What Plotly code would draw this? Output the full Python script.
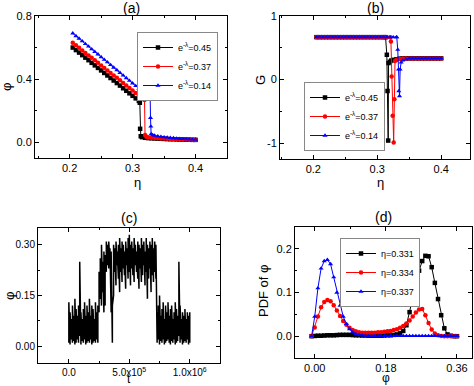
import plotly.graph_objects as go

# ---------------- panel (a): phi vs eta ----------------
eta_a_k = [0.205,0.21,0.215,0.22,0.225,0.23,0.235,0.24,0.245,0.25,0.255,0.26,0.265,0.27,0.275,0.28,0.285,0.29,0.295,0.30,0.305,0.31,
           0.3115,0.312,0.313,0.315,
           0.32,0.325,0.33,0.335,0.34,0.345,0.35,0.355,0.36,0.365,0.37,0.375,0.38,0.385,0.39,0.395,0.40]
phi_a_k = [0.600,0.584,0.568,0.552,0.536,0.520,0.503,0.487,0.471,0.455,0.439,0.423,0.407,0.391,0.375,0.359,0.342,0.326,0.310,0.294,0.278,0.262,
           0.250,0.085,0.038,0.032,
           0.028,0.026,0.025,0.024,0.023,0.022,0.021,0.020,0.019,0.019,0.018,0.017,0.017,0.016,0.016,0.015,0.015]

eta_a_r = [0.205,0.21,0.215,0.22,0.225,0.23,0.235,0.24,0.245,0.25,0.255,0.26,0.265,0.27,0.275,0.28,0.285,0.29,0.295,0.30,0.305,0.31,0.315,
           0.319,0.3198,0.322,
           0.325,0.33,0.335,0.34,0.345,0.35,0.355,0.36,0.365,0.37,0.375,0.38,0.385,0.39,0.395,0.40]
phi_a_r = [0.630,0.614,0.598,0.582,0.566,0.550,0.535,0.519,0.503,0.487,0.471,0.455,0.439,0.423,0.408,0.392,0.376,0.360,0.344,0.328,0.312,0.296,0.281,
           0.268,0.045,0.035,
           0.030,0.028,0.026,0.025,0.024,0.023,0.022,0.021,0.020,0.019,0.018,0.018,0.017,0.016,0.016,0.015]

eta_a_b = [0.205,0.21,0.215,0.22,0.225,0.23,0.235,0.24,0.245,0.25,0.255,0.26,0.265,0.27,0.275,0.28,0.285,0.29,0.295,0.30,0.305,0.31,0.315,0.32,0.325,
           0.328,0.3285,0.329,0.3295,0.332,0.335,
           0.34,0.345,0.35,0.355,0.36,0.365,0.37,0.375,0.38,0.385,0.39,0.395,0.40]
phi_a_b = [0.690,0.673,0.657,0.640,0.623,0.607,0.590,0.573,0.557,0.540,0.523,0.507,0.490,0.473,0.457,0.440,0.423,0.407,0.390,0.373,0.357,0.340,0.323,0.307,0.290,
           0.280,0.155,0.100,0.052,0.046,0.042,
           0.038,0.035,0.032,0.030,0.028,0.026,0.024,0.022,0.021,0.020,0.019,0.018,0.017]

# ---------------- panel (b): G vs eta ----------------
eta_b_k = [0.205,0.21,0.215,0.22,0.225,0.23,0.235,0.24,0.245,0.25,0.255,0.26,0.265,0.27,0.275,0.28,0.285,0.29,0.295,0.30,0.305,0.31,
           0.313,0.315,0.3161,0.3171,0.3177,0.3198,0.322,0.325,0.33,0.335,
           0.34,0.345,0.35,0.355,0.36,0.365,0.37,0.375,0.38,0.385,0.39,0.395,0.40]
G_b_k = [0.667,0.667,0.667,0.667,0.667,0.667,0.667,0.667,0.667,0.667,0.667,0.667,0.667,0.667,0.667,0.667,0.667,0.667,0.667,0.667,0.667,0.667,
         0.667,0.39,-0.18,-0.96,0.26,0.28,0.30,0.31,0.32,0.33,
         0.333,0.333,0.333,0.333,0.333,0.333,0.333,0.333,0.333,0.333,0.333,0.333,0.333]

eta_b_r = [0.205,0.21,0.215,0.22,0.225,0.23,0.235,0.24,0.245,0.25,0.255,0.26,0.265,0.27,0.275,0.28,0.285,0.29,0.295,0.30,0.305,0.31,0.315,
           0.3205,0.3214,0.3225,0.3241,0.3257,0.3268,0.3278,0.33,0.335,
           0.34,0.345,0.35,0.355,0.36,0.365,0.37,0.375,0.38,0.385,0.39,0.395,0.40]
G_b_r = [0.667,0.667,0.667,0.667,0.667,0.667,0.667,0.667,0.667,0.667,0.667,0.667,0.667,0.667,0.667,0.667,0.667,0.667,0.667,0.667,0.667,0.667,0.667,
         0.667,0.60,0.05,-0.57,-0.99,-0.31,0.29,0.31,0.325,
         0.333,0.333,0.333,0.333,0.333,0.333,0.333,0.333,0.333,0.333,0.333,0.333,0.333]

eta_b_b = [0.205,0.21,0.215,0.22,0.225,0.23,0.235,0.24,0.245,0.25,0.255,0.26,0.265,0.27,0.275,0.28,0.285,0.29,0.295,0.30,0.305,0.31,0.315,0.32,0.325,0.33,
           0.3305,0.3321,0.3332,0.3337,0.3348,0.3358,0.3374,0.34,0.345,
           0.35,0.355,0.36,0.365,0.37,0.375,0.38,0.385,0.39,0.395,0.40]
G_b_b = [0.667,0.667,0.667,0.667,0.667,0.667,0.667,0.667,0.667,0.667,0.667,0.667,0.667,0.667,0.667,0.667,0.667,0.667,0.667,0.667,0.667,0.667,0.667,0.667,0.667,0.667,
         0.667,0.47,0.16,-0.18,-0.26,0.16,0.27,0.30,0.32,
         0.333,0.333,0.333,0.333,0.333,0.333,0.333,0.333,0.333,0.333,0.333]

legend_a = ["e<sup>-λ</sup>=0.45", "e<sup>-λ</sup>=0.37", "e<sup>-λ</sup>=0.14"]

# ---------------- panel (c): phi time series (low / high envelope per step) ----------------
t_c = [0,1e4,2e4,3e4,4e4,5e4,6e4,7e4,8e4,9e4,10e4,11e4,12e4,13e4,14e4,15e4,16e4,17e4,18e4,19e4,
       20e4,21e4,22e4,23e4,24e4,25e4,26e4,27e4,28e4,29e4,30e4,31e4,32e4,33e4,34e4,35e4,36e4,37e4,38e4,39e4,
       40e4,41e4,42e4,43e4,44e4,45e4,46e4,47e4,48e4,49e4,50e4,51e4,52e4,53e4,54e4,55e4,56e4,57e4,58e4,59e4,
       60e4,61e4,62e4,63e4,64e4,65e4,66e4,67e4,68e4,69e4,70e4,71e4,72e4,73e4,74e4,75e4,76e4,77e4,78e4,79e4,
       80e4,81e4,82e4,83e4,84e4,85e4,86e4,87e4,88e4,89e4,90e4,91e4,92e4,93e4,94e4,95e4,96e4,97e4,98e4,99e4,100e4]
phi_c_hi = [0.13,0.10,0.08,0.12,0.09,0.14,0.11,0.09,0.12,0.25,0.10,0.08,0.11,0.13,0.09,0.12,0.10,0.14,0.09,0.12,
            0.11,0.08,0.13,0.10,0.12,0.22,0.26,0.30,0.25,0.28,0.27,0.31,0.30,0.31,0.29,0.28,0.12,0.30,0.29,0.31,
            0.28,0.30,0.32,0.29,0.31,0.30,0.28,0.31,0.29,0.32,0.33,0.30,0.31,0.29,0.32,0.30,0.28,0.31,0.30,0.29,
            0.32,0.30,0.31,0.28,0.32,0.30,0.29,0.31,0.30,0.32,0.29,0.31,0.30,0.10,0.12,0.15,0.09,0.11,0.13,0.08,
            0.12,0.10,0.13,0.09,0.11,0.12,0.08,0.10,0.13,0.11,0.09,0.25,0.12,0.08,0.10,0.09,0.11,0.08,0.10,0.09,0.10]
phi_c_lo = [0.01,0.005,0.02,0.01,0.015,0.005,0.01,0.02,0.01,0.03,0.005,0.015,0.01,0.02,0.005,0.01,0.015,0.01,0.02,0.005,
            0.01,0.015,0.01,0.02,0.01,0.10,0.14,0.12,0.16,0.10,0.12,0.22,0.24,0.23,0.25,0.10,0.01,0.15,0.22,0.18,
            0.24,0.20,0.16,0.22,0.19,0.23,0.21,0.17,0.24,0.20,0.22,0.18,0.23,0.21,0.19,0.24,0.22,0.20,0.17,0.23,
            0.19,0.21,0.24,0.18,0.22,0.14,0.20,0.23,0.16,0.21,0.19,0.22,0.20,0.01,0.02,0.005,0.015,0.01,0.02,0.005,
            0.01,0.015,0.02,0.01,0.005,0.015,0.01,0.02,0.005,0.01,0.015,0.03,0.01,0.02,0.005,0.01,0.015,0.01,0.02,0.005,0.01]

# ---------------- panel (d): PDF of phi ----------------
phi_d = [-0.008,0.000,0.008,0.016,0.024,0.032,0.040,0.048,0.056,0.064,0.072,0.080,0.088,0.096,0.104,0.112,0.120,0.128,0.136,0.144,
         0.152,0.160,0.168,0.176,0.184,0.192,0.200,0.208,0.216,0.224,0.232,0.240,0.248,0.256,0.264,0.272,0.280,0.288,0.296,0.304,
         0.312,0.320,0.328,0.336,0.344,0.352,0.360]
pdf_k = [0.000,0.0005,0.001,0.001,0.0015,0.002,0.002,0.002,0.0025,0.003,0.003,0.003,0.003,0.0025,0.002,0.002,0.0015,0.0015,0.001,0.001,
         0.001,0.001,0.001,0.0015,0.002,0.002,0.003,0.004,0.007,0.012,0.025,0.055,0.088,0.120,0.150,0.172,0.184,0.183,0.158,0.122,
         0.085,0.048,0.018,0.004,0.001,0.000,0.000]
pdf_r = [0.000,0.020,0.045,0.066,0.078,0.083,0.080,0.071,0.059,0.046,0.035,0.026,0.019,0.014,0.011,0.009,0.008,0.008,0.008,0.008,
         0.008,0.009,0.009,0.010,0.011,0.012,0.014,0.016,0.019,0.023,0.029,0.036,0.045,0.054,0.061,0.062,0.048,0.030,0.015,0.006,
         0.002,0.0005,0.000,0.000,0.000,0.000,0.000]
pdf_b = [0.000,0.045,0.110,0.155,0.172,0.175,0.165,0.135,0.100,0.070,0.045,0.028,0.016,0.009,0.005,0.003,0.002,0.001,0.0005,0.0005,
         0.0005,0.0005,0.0005,0.0005,0.0005,0.0005,0.0005,0.0005,0.0005,0.0005,0.0005,0.0005,0.0005,0.0005,0.0005,0.0005,0.0005,0.0005,0.0005,0.0005,
         0.0005,0.0005,0.0005,0.0005,0.0005,0.0005,0.0005]
legend_d = ["η=0.331", "η=0.334", "η=0.337"]

colors = ["#000000", "#ff0000", "#0000ff"]
symbols = ["square", "circle", "triangle-up"]

fig = go.Figure()

def add_series(x, y, i, name, xa, ya, leg, size=4.5):
    fig.add_trace(go.Scatter(x=x, y=y, mode="lines+markers", name=name,
                             line=dict(color=colors[i], width=1),
                             marker=dict(symbol=symbols[i], size=size, color=colors[i]),
                             xaxis=xa, yaxis=ya, legend=leg))

add_series(eta_a_k, phi_a_k, 0, legend_a[0], "x", "y", "legend")
add_series(eta_a_r, phi_a_r, 1, legend_a[1], "x", "y", "legend")
add_series(eta_a_b, phi_a_b, 2, legend_a[2], "x", "y", "legend")

add_series(eta_b_k, G_b_k, 0, legend_a[0], "x2", "y2", "legend2")
add_series(eta_b_r, G_b_r, 1, legend_a[1], "x2", "y2", "legend2")
add_series(eta_b_b, G_b_b, 2, legend_a[2], "x2", "y2", "legend2")

xs, ys = [], []
for t, lo, hi in zip(t_c, phi_c_lo, phi_c_hi):
    xs += [t, t]
    ys += [lo, hi]
fig.add_trace(go.Scatter(x=xs, y=ys, mode="lines", line=dict(color="black", width=1.5),
                         xaxis="x3", yaxis="y3", showlegend=False))

add_series(phi_d, pdf_k, 0, legend_d[0], "x4", "y4", "legend3")
add_series(phi_d, pdf_r, 1, legend_d[1], "x4", "y4", "legend3")
add_series(phi_d, pdf_b, 2, legend_d[2], "x4", "y4", "legend3")

font_family = "Liberation Sans, Arial, sans-serif"

def axis(**kw):
    d = dict(showline=True, linecolor="black", linewidth=1, mirror="ticks",
             ticks="inside", ticklen=4, tickcolor="black", tickwidth=1,
             showgrid=False, zeroline=False, automargin=False,
             tickfont=dict(size=11, color="black", family=font_family),
             minor=dict(ticks="inside", ticklen=2, tickcolor="black", showgrid=False))
    d.update(kw)
    return d

W, H = 474, 386
def dx(a, b):
    return [a / W, b / W]
def dy(top, bottom):
    return [1 - bottom / H, 1 - top / H]

leg_common = dict(bgcolor="white", bordercolor="#888888", borderwidth=1,
                  font=dict(size=9, color="black", family=font_family),
                  tracegroupgap=0, itemwidth=30, yanchor="top")

fig.update_layout(
    width=W, height=H, margin=dict(l=0, r=0, t=0, b=0, autoexpand=False),
    paper_bgcolor="white", plot_bgcolor="white",
    font=dict(family=font_family, color="black"),
    xaxis=axis(domain=dx(35, 227), anchor="y", range=[0.145, 0.45], tickvals=[0.2, 0.3, 0.4],
               ticktext=["0.2", "0.3", "0.4"], minor_dtick=0.05, minor_tick0=0.15),
    yaxis=axis(domain=dy(16, 158), anchor="x", range=[-0.1, 0.8], tickvals=[0.0, 0.4, 0.8],
               ticktext=["0.0", "0.4", "0.8"], minor_dtick=0.2, minor_tick0=0),
    xaxis2=axis(domain=dx(280, 470), anchor="y2", range=[0.148, 0.445], tickvals=[0.2, 0.3, 0.4],
                ticktext=["0.2", "0.3", "0.4"], minor_dtick=0.05, minor_tick0=0.15),
    yaxis2=axis(domain=dy(16, 159), anchor="x2", range=[-1.25, 1.0], tickvals=[-1, 0, 1],
                ticktext=["-1", "0", "1"], minor_dtick=0.5, minor_tick0=0),
    xaxis3=axis(domain=dx(38, 220), anchor="y3", range=[-2.55e5, 1.25e6], tickvals=[0, 5e5, 1e6],
                ticktext=["0.0", "5.0x10<sup>5</sup>", "1.0x10<sup>6</sup>"], minor_dtick=2.5e5, minor_tick0=0,
                tickfont=dict(size=10, color="black", family=font_family)),
    yaxis3=axis(domain=dy(228, 363), anchor="x3", range=[-0.05, 0.35], tickvals=[0, 0.15, 0.30],
                ticktext=["0.00", "0.15", "0.30"], minor_dtick=0.075, minor_tick0=0,
                tickfont=dict(size=10, color="black", family=font_family)),
    xaxis4=axis(domain=dx(295, 472), anchor="y4", range=[-0.05, 0.398], tickvals=[0, 0.18, 0.36],
                ticktext=["0.00", "0.18", "0.36"], minor_dtick=0.09, minor_tick0=0),
    yaxis4=axis(domain=dy(227, 358), anchor="x4", range=[-0.05, 0.25], tickvals=[0, 0.1, 0.2],
                ticktext=["0.0", "0.1", "0.2"], minor_dtick=0.05, minor_tick0=0),
    legend=dict(x=218 / W, y=1 - 32 / H, xanchor="right", **leg_common),
    legend2=dict(x=304 / W, y=1 - 82 / H, xanchor="left", **leg_common),
    legend3=dict(x=380 / W, y=1 - 238 / H, xanchor="center", **leg_common),
)

# panel titles
panel_titles = [("(a)", 131, 8), ("(b)", 375, 8), ("(c)", 129, 218), ("(d)", 383, 217)]
for txt, px, py in panel_titles:
    fig.add_annotation(text=txt, x=px / W, y=1 - py / H, xref="paper", yref="paper",
                       showarrow=False, xanchor="center", yanchor="middle",
                       font=dict(size=14, color="black", family=font_family))

# axis titles (text, x px, y px, angle, size)
axis_titles = [("η", 137, 182, 0, 13), ("φ", 6, 87, -90, 13),
               ("η", 380, 182, 0, 13), ("G", 261, 80, -90, 13),
               ("t", 129, 379, 0, 12), ("φ", 9, 296, -90, 13),
               ("φ", 386, 378, 0, 12), ("PDF of φ", 263, 291, -90, 13)]
for txt, px, py, ang, fs in axis_titles:
    fig.add_annotation(text=txt, x=px / W, y=1 - py / H, xref="paper", yref="paper",
                       showarrow=False, xanchor="center", yanchor="middle", textangle=ang,
                       font=dict(size=fs, color="black", family=font_family))

fig.write_html("out.html", config={"displayModeBar": False},
               post_script="document.body.style.margin='0px';document.body.style.overflow='hidden';")
